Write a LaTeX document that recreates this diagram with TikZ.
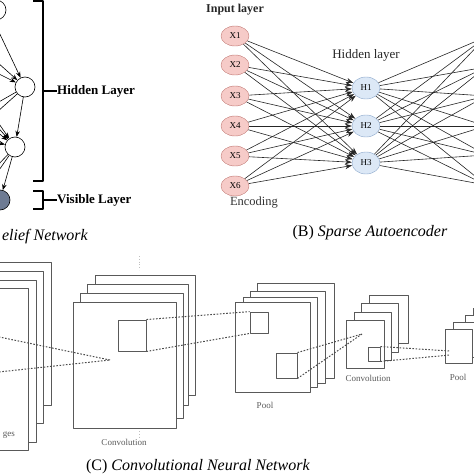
\documentclass[tikz,border=0pt]{standalone}
\usepackage{fontspec}
\setmainfont{Liberation Serif}
\usetikzlibrary{arrows.meta,shapes.geometric}
\definecolor{slate}{HTML}{6E7B93}
\definecolor{xpink}{HTML}{F6CBC8}
\definecolor{xred}{HTML}{C27A75}
\definecolor{hlight}{HTML}{DCE8F6}
\definecolor{hblue}{HTML}{8EA9CC}

\begin{document}
\begin{tikzpicture}[x=1pt,y=-1pt,line join=round,
  dbn/.style={circle,draw,fill=white,minimum size=20pt,inner sep=0pt,line width=.6pt},
  vis/.style={dbn,fill=slate},
  arr/.style={-{Stealth[length=6pt,width=4.5pt]},line width=.6pt},
  ln/.style={line width=.6pt},
  brk/.style={line width=2.4pt},
  side/.style={font=\fontsize{13}{15}\selectfont\bfseries,anchor=west,inner sep=0pt},
  inp/.style={ellipse,draw=xred,fill=xpink,minimum width=28pt,minimum height=20pt,inner sep=0pt,font=\fontsize{9}{10}\selectfont},
  hid/.style={ellipse,draw=hblue,fill=hlight,minimum width=28pt,minimum height=22pt,inner sep=0pt,font=\fontsize{9}{10}\selectfont},
  ae/.style={-{Stealth[length=7pt,width=5pt]},line width=.6pt,draw=black!85},
  fanout/.style={line width=.6pt,draw=black!85},
  fmap/.style={draw=black!65,fill=white,line width=.9pt},
  sq/.style={draw=black!65,line width=.9pt,inner sep=0pt},
  dots/.style={dash pattern=on 1.6pt off 1.6pt,line width=1pt,draw=black!70},
  lbl/.style={font=\fontsize{9}{10}\selectfont,text=black!65,inner sep=0pt},
  capt/.style={font=\fontsize{16}{18}\selectfont,inner sep=0pt}]
\useasboundingbox (0,0) rectangle (474,474);
\clip (0,0) rectangle (474,474);

% (A) deep belief network
\node[dbn] (dt) at (-4,10) {};
\node[dbn] (dh1) at (25,87) {};
\node[dbn] (dh2) at (15,147) {};
\node[vis] (dv) at (0,200) {};
\foreach \n/\y in {a/28,b/62,c/73} \coordinate (s\n) at (-3,\y);
\foreach \n in {a,b,c} \draw[arr] (s\n) -- (dh1);
\foreach \n/\y in {a/103,b/112} \coordinate (e\n) at (-3,\y);
\foreach \n in {a,b} \draw[ln] (dh1) -- (e\n);
\draw[arr] (dh1) -- (dh2);
\foreach \n/\y in {a/118,b/124,c/130,d/142} \coordinate (r\n) at (-5,\y);
\foreach \n in {a,b,c,d} \draw[arr] (r\n) -- (dh2);
\foreach \n/\y in {a/166,b/173} \coordinate (f\n) at (-3,\y);
\foreach \n in {a,b} \draw[ln] (dh2) -- (f\n);
\draw[arr] (dh2) -- (dv);

\node[side] (hl) at (57,91) {Hidden Layer};
\node[side] (vl) at (57,200) {Visible Layer};
\draw[brk] (33,1) -- (43,1) -- (43,181) -- (33,181);
\draw[brk] (43,91) -- (hl.west);
\draw[brk] (33,191) -- (43,191) -- (43,209) -- (33,209);
\draw[brk] (43,200) -- (vl.west);
\node[capt,anchor=east] (capA) at (88,237) {\itshape elief Network};

% (B) sparse autoencoder
\foreach \i/\y in {1/36,2/65,3/96,4/126,5/156,6/186}
  \node[inp] (x\i) at (235,\y) {X\i};
\foreach \j/\y in {1/88,2/126,3/163}
  \node[hid] (h\j) at (366,\y) {H\j};
\foreach \i in {1,...,6}
  \foreach \j in {1,2,3}
    \draw[ae] (x\i) -- (h\j);
\foreach \i/\y in {1/37,2/67,3/96,4/126,5/155,6/185}
  \coordinate (o\i) at (486,\y);
\foreach \j in {1,2,3}
  \foreach \i in {1,...,6}
    \draw[fanout] (h\j) -- (o\i);
\node[font=\fontsize{12}{14}\selectfont\bfseries,text=black!85] (il) at (235,10) {Input layer};
\node[font=\fontsize{13}{15}\selectfont,text=black!85] (hdl) at (366,55) {Hidden layer};
\node[font=\fontsize{12.5}{14}\selectfont,text=black!80] (enc) at (254,203) {Encoding};
\node[capt] (capB) at (370,233) {(B) \textit{Sparse Autoencoder}};

% (C) convolutional neural network
\foreach \l/\t/\r/\b in {-60/262/51/405,-60/271/43/423,-60/280/36/442,-60/288/28/450}
  \draw[fmap] (\l,\t) rectangle (\r,\b);
\foreach \l/\t/\r/\b in {95/275/195/395,87/284/188/405,80/293/183/418,73/302/176/428}
  \draw[fmap] (\l,\t) rectangle (\r,\b);
\foreach \l/\t/\r/\b in {257/283/334/378,250/291/325/383,243/297/317/387,235/302/310/392}
  \draw[fmap] (\l,\t) rectangle (\r,\b);
\foreach \l/\t/\r/\b in {369/295/408/343,361/303/398/352,354/312/391/360,346/320/384/368}
  \draw[fmap] (\l,\t) rectangle (\r,\b);
\foreach \l/\t/\r/\b in {473/308/505/343,465/315/497/350,453/322/485/357,445/329/472/363}
  \draw[fmap] (\l,\t) rectangle (\r,\b);
\draw[black!25,dotted,line width=.8pt] (139,256) -- (139,270);
\draw[black!25,dotted,line width=.8pt] (139,431) -- (139,437);

\node[sq,minimum width=28pt,minimum height=31pt] (k1) at (132,335.5) {};
\node[sq,minimum width=18pt,minimum height=21pt] (k2) at (259,322.5) {};
\node[sq,minimum width=21pt,minimum height=25pt] (k3) at (286.5,365.5) {};
\node[sq,minimum width=12pt,minimum height=14pt] (k4) at (374,354) {};

\coordinate (ia) at (-20,333);
\coordinate (ib) at (-20,374);
\coordinate (c1) at (110,360);
\coordinate (c2) at (362,334);
\coordinate (pa) at (450,351);
\coordinate (pb) at (450,355);
\draw[dots] (ia) -- (c1);
\draw[dots] (ib) -- (c1);
\draw[dots] (k1.north east) -- (k2.north west);
\draw[dots] (k1.south east) -- (k2.south west);
\draw[dots] (k3.north east) -- (c2);
\draw[dots] (k3.south east) -- (c2);
\draw[dots] (k4.north east) -- (pa);
\draw[dots] (k4.south east) -- (pb);

\node[lbl,anchor=east] (im) at (15,435) {ges};
\node[lbl] (cv1) at (124,442) {Convolution};
\node[lbl] (pl1) at (265,405) {Pool};
\node[lbl] (cv2) at (368,378) {Convolution};
\node[lbl] (pl2) at (458,377) {Pool};
\node[capt] (capC) at (198,467) {(C) \textit{Convolutional Neural Network}};
\end{tikzpicture}
\end{document}
